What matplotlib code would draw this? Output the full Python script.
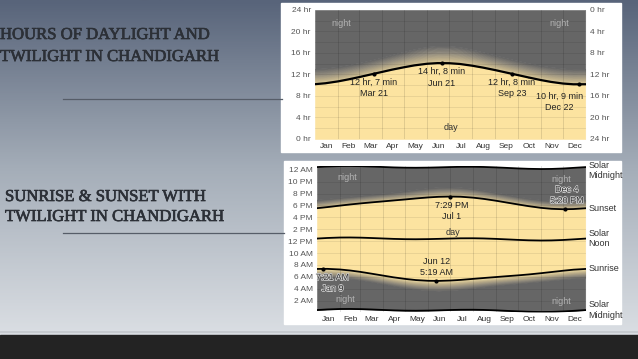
import numpy as np
import matplotlib.pyplot as plt
from matplotlib.colors import LinearSegmentedColormap, to_rgb
from matplotlib.patches import Rectangle
import matplotlib.patheffects as pe

plt.rcParams['font.family'] = ['Liberation Sans Narrow', 'Liberation Sans', 'DejaVu Sans']

days = [0, 14, 31, 45, 59, 73, 90, 104, 120, 134, 151, 165, 181, 195,
        212, 226, 243, 257, 273, 287, 304, 318, 334, 348, 364]
daylight = [10.20, 10.37, 10.72, 11.09, 11.50, 11.94, 12.47, 12.91, 13.35, 13.70, 14.00, 14.12, 14.10,
            13.96, 13.63, 13.29, 12.81, 12.38, 11.90, 11.47, 10.97, 10.62, 10.32, 10.18, 10.19]
civil = [11.08, 11.23, 11.56, 11.91, 12.31, 12.74, 13.28, 13.73, 14.20, 14.57, 14.90, 15.05, 15.02,
         14.86, 14.50, 14.13, 13.63, 13.19, 12.70, 12.28, 11.80, 11.47, 11.19, 11.06, 11.07]
nautical = [12.08, 12.22, 12.52, 12.86, 13.24, 13.67, 14.23, 14.71, 15.21, 15.63, 16.01, 16.17, 16.14,
            15.96, 15.55, 15.14, 14.59, 14.13, 13.63, 13.21, 12.75, 12.44, 12.18, 12.06, 12.07]
astro = [13.06, 13.19, 13.47, 13.79, 14.17, 14.61, 15.19, 15.70, 16.27, 16.74, 17.18, 17.38, 17.34,
         17.12, 16.65, 16.19, 15.58, 15.09, 14.57, 14.14, 13.69, 13.39, 13.15, 13.04, 13.05]
# solar noon, minutes after 12:00
noon_min = [26.2, 32.1, 36.5, 37.1, 35.4, 31.9, 26.9, 22.9, 20.0, 19.3, 20.7, 23.2, 26.5,
            28.8, 29.2, 27.4, 22.9, 18.2, 12.7, 8.7, 6.5, 7.5, 11.9, 18.2, 25.6]

months = ['Jan', 'Feb', 'Mar', 'Apr', 'May', 'Jun', 'Jul', 'Aug', 'Sep', 'Oct', 'Nov', 'Dec']
month_start = [0, 31, 59, 90, 120, 151, 181, 212, 243, 273, 304, 334, 365]

# annotated points
top_note_day = [79, 171, 265, 355]
top_note_hr = [12 + 7/60, 14 + 8/60, 12 + 8/60, 10 + 9/60]
top_note_txt = ['12 hr, 7 min\nMar 21', '14 hr, 8 min\nJun 21', '12 hr, 8 min\nSep 23', '10 hr, 9 min\nDec 22']

set_day = [181, 337]
set_hr = [19 + 29/60, 17 + 20/60]
rise_day = [162, 8]
rise_hr = [5 + 19/60, 7 + 21/60]

x = np.array(days, float)
daylight = np.array(daylight)
civil = np.array(civil)
nautical = np.array(nautical)
astro = np.array(astro)
noon = 12 + np.array(noon_min) / 60

DAY = '#fce3a0'
NIGHT = '#666666'
E0, E1, E2 = '#e6d49f', '#bcae8a', '#8f897c'


def shade(ax, lo, hi, c0, c1, n=8):
    c0 = np.array(to_rgb(c0)); c1 = np.array(to_rgb(c1))
    for i in range(n):
        a = lo + (hi - lo) * i / n
        b = lo + (hi - lo) * (i + 1) / n
        c = c0 + (c1 - c0) * (i + 0.5) / n
        ax.fill_between(x, a, b, color=c, lw=0.4, ec=c)


def style(ax):
    for s in ax.spines.values():
        s.set_visible(False)
    mids = [(month_start[i] + month_start[i + 1]) / 2 for i in range(12)]
    ax.set_xticks(mids)
    ax.set_xticklabels(months, fontsize=6, color='#333333')
    ax.set_xlim(0, 365)
    ax.tick_params(length=0, pad=3, labelsize=6)
    for m in month_start[1:-1]:
        ax.axvline(m, color='k', alpha=0.13, lw=0.6, zorder=3)


fig = plt.figure(figsize=(6.38, 3.59), dpi=100)

# slide background
bg = fig.add_axes([0, 0, 1, 1])
bg.set_xlim(0, 638); bg.set_ylim(359, 0); bg.axis('off')
cmap = LinearSegmentedColormap.from_list('bg', ['#58647a', '#a4adb8', '#dadee3'])
bg.imshow(np.linspace(0, 1, 200).reshape(-1, 1), cmap=cmap, aspect='auto',
          extent=[0, 638, 335, 0], zorder=0)
bg.add_patch(Rectangle((0, 335), 638, 24, color='#232323', zorder=1))
bg.plot([0, 638], [332, 332], color='#c3c7cc', lw=1.2, zorder=1)
bg.add_patch(Rectangle((281, 3), 340, 149, color='white', zorder=1))
bg.add_patch(Rectangle((284, 161), 337, 163, color='white', zorder=1))
bg.plot([63, 282], [99, 99], color='#565d68', lw=0.9, zorder=2)
bg.plot([63, 284], [233, 233], color='#565d68', lw=0.9, zorder=2)
tfont = dict(family='Liberation Serif', fontsize=12, color='#2c3037', va='center', ha='left', zorder=3,
             path_effects=[pe.withStroke(linewidth=0.5, foreground='#2c3037')])
bg.text(0, 35, 'HOURS OF DAYLIGHT AND', **tfont)
bg.text(0, 57, 'TWILIGHT IN CHANDIGARH', **tfont)
bg.text(5, 197, 'SUNRISE & SUNSET WITH', **tfont)
bg.text(5, 217, 'TWILIGHT IN CHANDIGARH', **tfont)

# --- hours of daylight and twilight ---
ax1 = fig.add_axes([315/638, 1 - 139/359, 271/638, 129/359])
ax1.fill_between(x, 0, daylight, color=DAY, lw=0.4, ec=DAY)
shade(ax1, daylight, civil, E0, E1)
shade(ax1, civil, nautical, E1, E2)
shade(ax1, nautical, astro, E2, NIGHT)
ax1.fill_between(x, astro, 24, color=NIGHT, lw=0.4, ec=NIGHT)
for h in range(2, 24, 2):
    ax1.axhline(h, color='k', alpha=0.09, lw=0.6, zorder=3)
ax1.plot(x, daylight, color='black', lw=1.6, zorder=4)
ax1.plot(top_note_day, top_note_hr, 'o', color='black', ms=2.0, zorder=5)
for d, h, t in zip(top_note_day, top_note_hr, top_note_txt):
    if d > 340:
        ax1.annotate(t, (d, h), xytext=(3, -5), textcoords='offset points', ha='right', va='top',
                     fontsize=6.5, color='#222222', linespacing=1.35, multialignment='center', zorder=6)
    else:
        ax1.annotate(t, (d, h), xytext=(0, -3), textcoords='offset points', ha='center', va='top',
                     fontsize=6.5, color='#222222', linespacing=1.35, zorder=6)
ax1.text(36, 21.4, 'night', fontsize=6.5, color='#b5b5b5', ha='center', va='center', zorder=6)
ax1.text(329, 21.4, 'night', fontsize=6.5, color='#b5b5b5', ha='center', va='center', zorder=6)
ax1.text(183, 2.2, 'day', fontsize=6.5, color='#333333', ha='center', va='center', zorder=6)
ax1.set_ylim(0, 24)
ax1.set_yticks(range(0, 25, 4))
ax1.set_yticklabels([f'{h} hr' for h in range(0, 25, 4)], color='#555555')
style(ax1)
ax1r = ax1.twinx()
ax1r.set_ylim(0, 24)
ax1r.set_yticks(range(0, 25, 4))
ax1r.set_yticklabels([f'{24 - h} hr' for h in range(0, 25, 4)], color='#555555')
ax1r.tick_params(length=0, pad=3, labelsize=6)
for s in ax1r.spines.values():
    s.set_visible(False)

# --- sunrise & sunset with twilight ---
sunrise = noon - daylight / 2
sunset = noon + daylight / 2
mid_lo = noon - 12
mid_hi = noon + 12

ax2 = fig.add_axes([317/638, 1 - 312/359, 269/638, 146/359])
ax2.fill_between(x, mid_lo, noon - astro / 2, color=NIGHT, lw=0.4, ec=NIGHT)
shade(ax2, noon - astro / 2, noon - nautical / 2, NIGHT, E2)
shade(ax2, noon - nautical / 2, noon - civil / 2, E2, E1)
shade(ax2, noon - civil / 2, sunrise, E1, E0)
ax2.fill_between(x, sunrise, sunset, color=DAY, lw=0.4, ec=DAY)
shade(ax2, sunset, noon + civil / 2, E0, E1)
shade(ax2, noon + civil / 2, noon + nautical / 2, E1, E2)
shade(ax2, noon + nautical / 2, noon + astro / 2, E2, NIGHT)
ax2.fill_between(x, noon + astro / 2, mid_hi, color=NIGHT, lw=0.4, ec=NIGHT)
for h in range(2, 24, 2):
    ax2.axhline(h, color='k', alpha=0.09, lw=0.6, zorder=3)
for line in (mid_lo, sunrise, noon, sunset, mid_hi):
    ax2.plot(x, line, color='black', lw=1.3, zorder=4)
ax2.plot(set_day + rise_day, set_hr + rise_hr, 'o', color='black', ms=2.0, zorder=5)

halo = [pe.withStroke(linewidth=1.0, foreground='#d8d8d8')]
nf = dict(fontsize=6.5, linespacing=1.3, textcoords='offset points', zorder=6)
ax2.annotate('7:29 PM\nJul 1', (set_day[0], set_hr[0]), xytext=(1, -3), ha='center', va='top',
             color='#222222', **nf)
ax2.annotate('Dec 4\n5:20 PM', (set_day[1], set_hr[1]), xytext=(1, 3), ha='center', va='bottom',
             color='#333333', path_effects=halo, **nf)
ax2.annotate('Jun 12\n5:19 AM', (rise_day[0], rise_hr[0]), xytext=(0, 3), ha='center', va='bottom',
             color='#222222', **nf)
ax2.annotate('7:21 AM\nJan 9', (rise_day[1], rise_hr[1]), xytext=(-5, -3), ha='left', va='top',
             multialignment='center', color='#333333', path_effects=halo, **nf)

for dx, hy in [(41, 22.7), (332, 22.3), (39, 2.15), (332, 1.8)]:
    ax2.text(dx, hy, 'night', fontsize=6.5, color='#b5b5b5', ha='center', va='center', zorder=6)
ax2.text(184, 13.4, 'day', fontsize=6.5, color='#333333', ha='center', va='center', zorder=6)

ax2.set_ylim(mid_lo.min(), mid_hi.max())
hrs = list(range(2, 25, 2))
ax2.set_yticks(hrs)
ax2.set_yticklabels([f"{(h % 12) or 12} {'AM' if (h < 12 or h == 24) else 'PM'}" for h in hrs],
                    color='#555555')
style(ax2)
rf = dict(fontsize=6.5, color='#333333', ha='left', va='center', transform=ax2.get_yaxis_transform(),
          clip_on=False, linespacing=1.2)
ax2.text(1.008, mid_hi[-1] - 0.6, 'Solar\nMidnight', **rf)
ax2.text(1.008, sunset[-1], 'Sunset', **rf)
ax2.text(1.008, noon[-1], 'Solar\nNoon', **rf)
ax2.text(1.008, sunrise[-1], 'Sunrise', **rf)
ax2.text(1.008, mid_lo[-1], 'Solar\nMidnight', **rf)

fig.savefig('out.png', dpi=100)
